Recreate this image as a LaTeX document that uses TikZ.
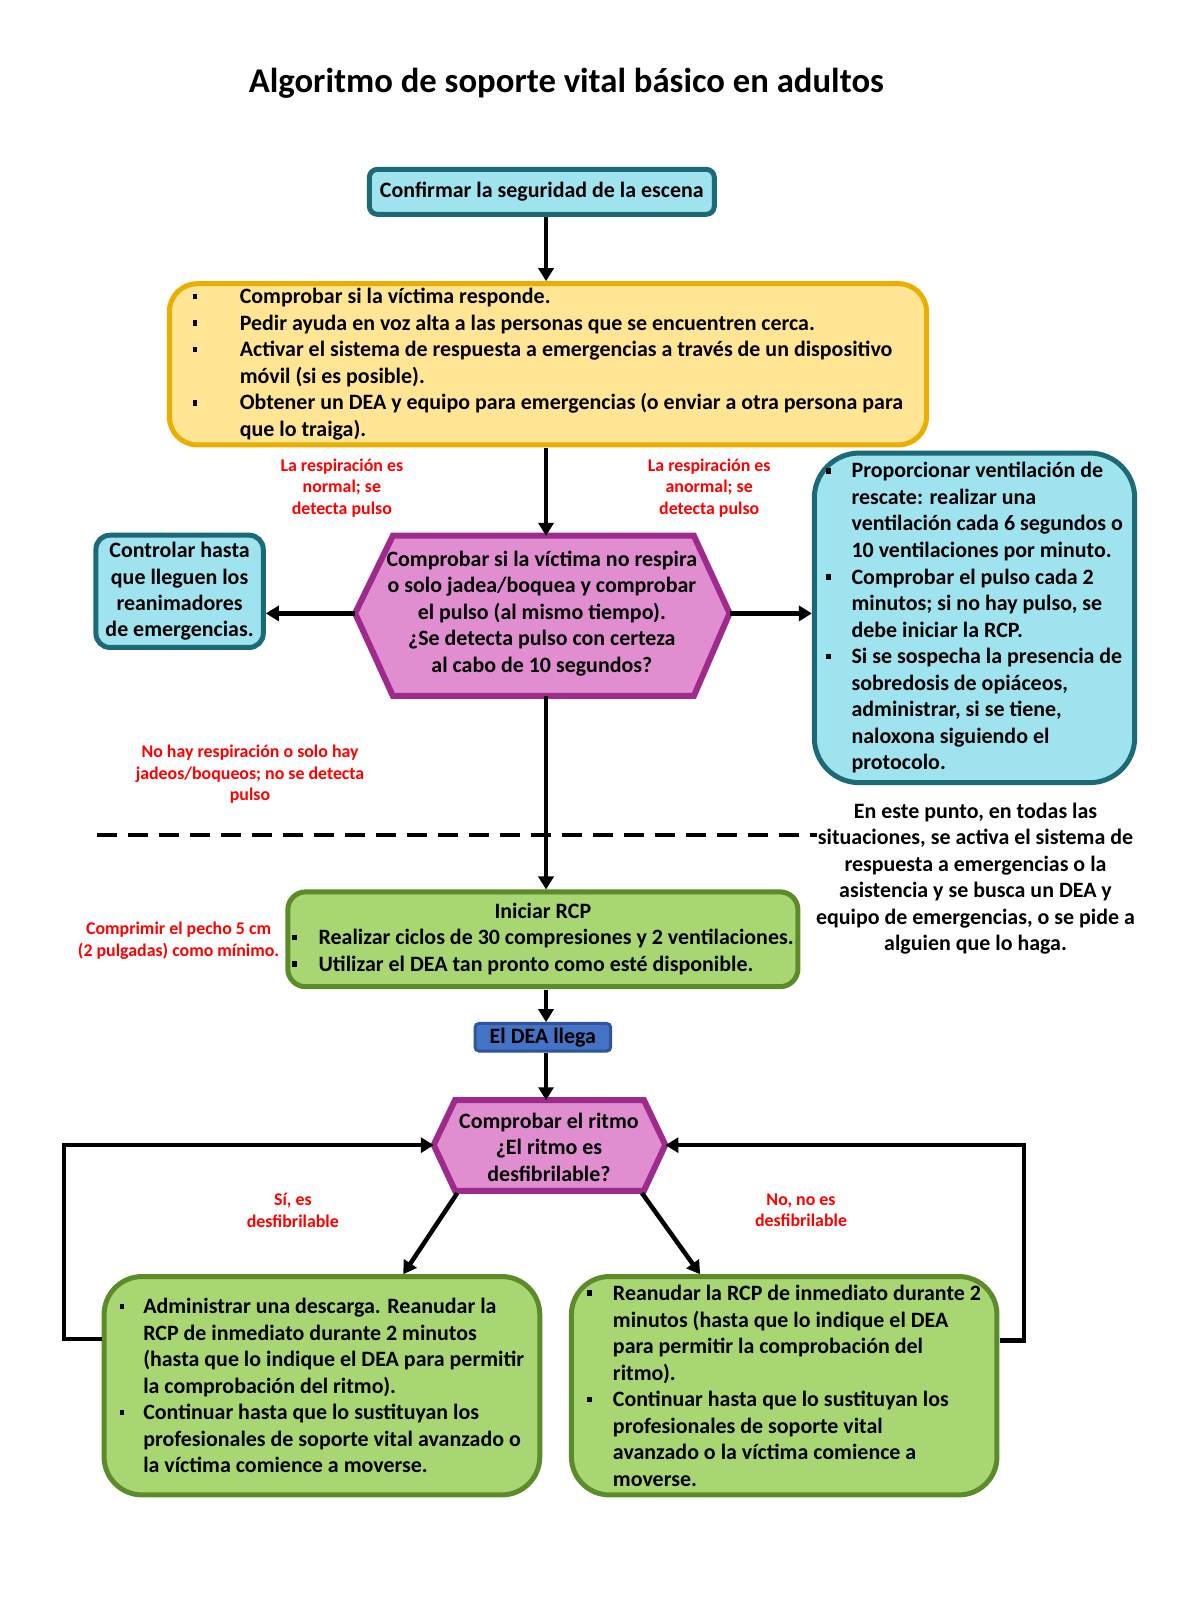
\documentclass[tikz,border=0pt]{standalone}
\usepackage{fontspec}
\setmainfont{Carlito}
\usetikzlibrary{arrows.meta}
\definecolor{cyfill}{HTML}{9FE3EF}
\definecolor{cyborder}{HTML}{1C6A76}
\definecolor{yefill}{HTML}{FFE594}
\definecolor{yeborder}{HTML}{E8AE00}
\definecolor{pkfill}{HTML}{E08ED0}
\definecolor{pkborder}{HTML}{9E2A8C}
\definecolor{grfill}{HTML}{A8D672}
\definecolor{grborder}{HTML}{5C8C2A}
\definecolor{blfill}{HTML}{4472C4}
\definecolor{blborder}{HTML}{2E5597}
\definecolor{redtxt}{HTML}{FF0000}
\newcommand{\bsq}{\rule[0.2em]{4.5pt}{5.5pt}}
\newcommand{\bitm}[2][25pt]{\makebox[#1][l]{\bsq}#2}
\newcommand{\cont}[2][25pt]{\hspace*{#1}#2}
\begin{document}
\begin{tikzpicture}[x=1pt,y=-1pt, scale=1.0204, transform shape,
  txt/.style={font=\bfseries\fontsize{21.5}{26}\selectfont},
  box/.style={txt, draw, line width=5pt, align=left, inner sep=0pt},
  cybox/.style={box, draw=cyborder, fill=cyfill},
  yebox/.style={box, draw=yeborder, fill=yefill},
  grbox/.style={box, draw=grborder, fill=grfill},
  blbox/.style={box, draw=blborder, fill=blfill, line width=3pt},
  hexa/.style={draw=pkborder, fill=pkfill, line width=6pt, line join=miter},
  redlbl/.style={text=redtxt, font=\bfseries\fontsize{17.5}{21}\selectfont, align=center, inner sep=0pt},
  arr/.style={line width=4.5pt, -{Triangle[length=13pt,width=15pt]}},
  dashline/.style={line width=4pt, dash pattern=on 20pt off 11pt}
]
\fill[white] (0,0) rectangle (1176,1568);
\useasboundingbox (0,0) rectangle (1176,1568);

% title
\node[font=\bfseries\fontsize{34}{40}\selectfont] (title) at (555,82) {Algoritmo de soporte vital básico en adultos};

% box 1
\node[cybox, rounded corners=8pt, minimum width=338pt, minimum height=44pt, align=center] (b1) at (531,188) {Confirmar la seguridad de la escena};

% box 2
\node[yebox, rounded corners=28pt, minimum width=742pt, minimum height=158pt] (b2) at (537,357) {%
\bitm[46pt]{Comprobar si la víctima responde.}\\
\bitm[46pt]{Pedir ayuda en voz alta a las personas que se encuentren cerca.}\\
\bitm[46pt]{Activar el sistema de respuesta a emergencias a través de un dispositivo}\\
\cont[46pt]{móvil (si es posible).}\\
\bitm[46pt]{Obtener un DEA y equipo para emergencias (o enviar a otra persona para}\\
\cont[46pt]{que lo traiga).}};

% hexagon 1
\path[hexa] (348,601) -- (385,525) -- (680,525) -- (715,601) -- (680,682) -- (385,682) -- cycle;
\coordinate (h1t) at (535,525);
\coordinate (h1b) at (535,682);
\coordinate (h1l) at (348,601);
\coordinate (h1r) at (715,601);
\node[txt, align=center] (h1) at (531,601) {Comprobar si la víctima no respira\\o solo jadea/boquea y comprobar\\el pulso (al mismo tiempo).\\¿Se detecta pulso con certeza\\al cabo de 10 segundos?};

% left small box
\node[cybox, rounded corners=14pt, minimum width=164pt, minimum height=110pt, align=center, font=\bfseries\fontsize{21.5}{25.7}\selectfont] (ctrl) at (176,579.5) {Controlar hasta\\que lleguen los\\reanimadores\\de emergencias.};

% right box
\node[cybox, rounded corners=45pt, minimum width=314pt, minimum height=323pt] (vent) at (955,605.5) {%
\bitm{Proporcionar ventilación de}\\
\cont{rescate: realizar una}\\
\cont{ventilación cada 6 segundos o}\\
\cont{10 ventilaciones por minuto.}\\
\bitm{Comprobar el pulso cada 2}\\
\cont{minutos; si no hay pulso, se}\\
\cont{debe iniciar la RCP.}\\
\bitm{Si se sospecha la presencia de}\\
\cont{sobredosis de opiáceos,}\\
\cont{administrar, si se tiene,}\\
\cont{naloxona siguiendo el}\\
\cont{protocolo.}};

% red labels
\node[redlbl] (l1) at (335,478) {La respiración es\\normal; se\\detecta pulso};
\node[redlbl] (l2) at (695,478) {La respiración es\\anormal; se\\detecta pulso};
\node[redlbl] (l3) at (245,759) {No hay respiración o solo hay\\jadeos/boqueos; no se detecta\\pulso};
\node[redlbl] (l4) at (175,922) {Comprimir el pecho 5 cm\\(2 pulgadas) como mínimo.};
\node[redlbl] (l5) at (287,1186) {Sí, es\\desfibrilable};
\node[redlbl] (l6) at (785,1186) {No, no es\\desfibrilable};

% dashed line and note
\coordinate (dL) at (95,818);
\coordinate (dR) at (800,818);
\draw[dashline] (dL) -- (dR);
\node[txt, align=center, inner sep=0pt] (note) at (956,861) {En este punto, en todas las\\situaciones, se activa el sistema de\\respuesta a emergencias o la\\asistencia y se busca un DEA y\\equipo de emergencias, o se pide a\\alguien que lo haga.};

% RCP box
\node[grbox, rounded corners=18pt, minimum width=500pt, minimum height=93pt] (rcp) at (532,920.5) {%
\begin{tabular}{@{}l@{}}
\multicolumn{1}{c}{Iniciar RCP}\\
\bitm[26pt]{Realizar ciclos de 30 compresiones y 2 ventilaciones.}\\
\bitm[26pt]{Utilizar el DEA tan pronto como esté disponible.}
\end{tabular}};

% DEA box
\node[blbox, rounded corners=4pt, minimum width=133pt, minimum height=27pt, align=center] (dea) at (532,1016.5) {El DEA llega};

% hexagon 2
\path[hexa] (425,1122) -- (446,1078) -- (631,1078) -- (652,1122) -- (631,1167) -- (446,1167) -- cycle;
\coordinate (h2t) at (535,1078);
\coordinate (h2l) at (425,1122);
\coordinate (h2r) at (652,1122);
\coordinate (h2bl) at (448,1169);
\coordinate (h2br) at (629,1169);
\node[txt, align=center] (h2) at (538,1124) {Comprobar el ritmo\\¿El ritmo es\\desfibrilable?};

% bottom boxes
\node[grbox, rounded corners=38pt, minimum width=427pt, minimum height=214pt] (shock) at (315.5,1358) {%
\bitm[23pt]{Administrar una descarga. Reanudar la}\\
\cont[23pt]{RCP de inmediato durante 2 minutos}\\
\cont[23pt]{(hasta que lo indique el DEA para permitir}\\
\cont[23pt]{la comprobación del ritmo).}\\
\bitm[23pt]{Continuar hasta que lo sustituyan los}\\
\cont[23pt]{profesionales de soporte vital avanzado o}\\
\cont[23pt]{la víctima comience a moverse.}};

\node[grbox, rounded corners=38pt, minimum width=417pt, minimum height=214pt] (nosh) at (768.5,1358) {%
\bitm{Reanudar la RCP de inmediato durante 2}\\
\cont{minutos (hasta que lo indique el DEA}\\
\cont{para permitir la comprobación del}\\
\cont{ritmo).}\\
\bitm{Continuar hasta que lo sustituyan los}\\
\cont{profesionales de soporte vital}\\
\cont{avanzado o la víctima comience a}\\
\cont{moverse.}};

% connectors
\draw[arr] (b1.south -| h1t) -- (b2.north -| h1t);
\draw[arr] (b2.south -| h1t) -- (h1t);
\draw[arr] (h1l) -- (h1l -| ctrl.east);
\draw[arr] (h1r) -- (h1r -| vent.west);
\draw[arr] (h1b) -- (rcp.north -| h1b);
\draw[arr] (rcp.south -| h1b) -- (dea.north -| h1b);
\draw[arr] (dea.south -| h1b) -- (h2t);
\draw[arr] (h2bl) -- (shock.54.5);
\draw[arr] (h2br) -- (nosh.127.4);
\draw[arr] (shock.168.1) -- ++(-37,0) |- (h2l);
\draw[arr] (nosh.12.1) -- ++(24,0) |- (h2r);
\end{tikzpicture}
\end{document}
